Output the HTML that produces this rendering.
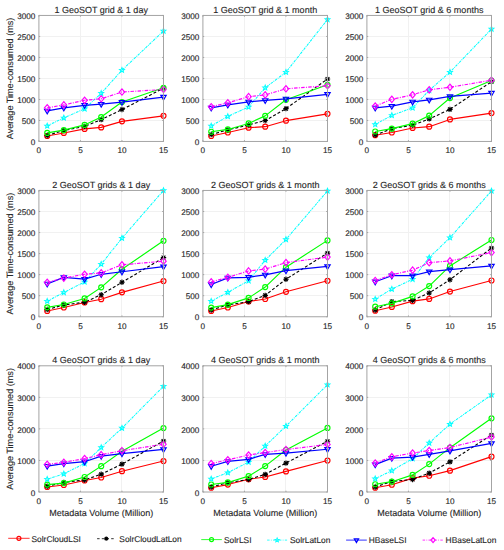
<!DOCTYPE html>
<html><head><meta charset="utf-8"><style>
html,body{margin:0;padding:0;background:#fff;}
body{width:504px;height:550px;overflow:hidden;font-family:"Liberation Sans",sans-serif;}
svg{display:block;}
svg text{stroke:#262626;stroke-width:0.12px;}
</style></head><body>
<svg width="504" height="550" viewBox="0 0 504 550" font-family="Liberation Sans, sans-serif" text-rendering="geometricPrecision">
<rect width="504" height="550" fill="#ffffff"/>
<path d="M80.50 15.45V141.45M121.50 15.45V141.45M38.90 120.50H163.50M38.90 99.50H163.50M38.90 78.50H163.50M38.90 57.50H163.50M38.90 36.50H163.50" stroke="#f1f1f1" stroke-width="1" fill="none"/>
<polyline points="47.21,135.95 63.82,132.92 84.59,128.89 101.20,127.38 121.97,121.37 163.50,115.83" fill="none" stroke="#ff0000" stroke-width="1.1" stroke-linejoin="round"/>
<circle cx="47.21" cy="135.95" r="2.50" fill="none" stroke="#ff0000" stroke-width="1.15"/>
<circle cx="63.82" cy="132.92" r="2.50" fill="none" stroke="#ff0000" stroke-width="1.15"/>
<circle cx="84.59" cy="128.89" r="2.50" fill="none" stroke="#ff0000" stroke-width="1.15"/>
<circle cx="101.20" cy="127.38" r="2.50" fill="none" stroke="#ff0000" stroke-width="1.15"/>
<circle cx="121.97" cy="121.37" r="2.50" fill="none" stroke="#ff0000" stroke-width="1.15"/>
<circle cx="163.50" cy="115.83" r="2.50" fill="none" stroke="#ff0000" stroke-width="1.15"/>
<polyline points="47.21,135.44 63.82,130.40 84.59,126.41 101.20,119.61 121.97,109.57 163.50,88.24" fill="none" stroke="#000000" stroke-width="1.1" stroke-dasharray="3 2" stroke-linejoin="round"/>
<path d="M44.51 135.44L49.91 135.44M45.30 133.53L49.12 137.35M47.21 132.74L47.21 138.14M49.12 133.53L45.30 137.35" stroke="#000000" stroke-width="1.1" fill="none"/>
<path d="M61.12 130.40L66.52 130.40M61.91 128.49L65.73 132.31M63.82 127.70L63.82 133.10M65.73 128.49L61.91 132.31" stroke="#000000" stroke-width="1.1" fill="none"/>
<path d="M81.89 126.41L87.29 126.41M82.68 124.50L86.50 128.32M84.59 123.71L84.59 129.11M86.50 124.50L82.68 128.32" stroke="#000000" stroke-width="1.1" fill="none"/>
<path d="M98.50 119.61L103.90 119.61M99.29 117.70L103.11 121.52M101.20 116.91L101.20 122.31M103.11 117.70L99.29 121.52" stroke="#000000" stroke-width="1.1" fill="none"/>
<path d="M119.27 109.57L124.67 109.57M120.06 107.66L123.88 111.48M121.97 106.87L121.97 112.27M123.88 107.66L120.06 111.48" stroke="#000000" stroke-width="1.1" fill="none"/>
<path d="M160.80 88.24L166.20 88.24M161.59 86.33L165.41 90.15M163.50 85.54L163.50 90.94M165.41 86.33L161.59 90.15" stroke="#000000" stroke-width="1.1" fill="none"/>
<polyline points="47.21,132.92 63.82,130.15 84.59,124.90 101.20,117.09 121.97,102.05 163.50,87.73" fill="none" stroke="#00ff00" stroke-width="1.15" stroke-linejoin="round"/>
<circle cx="47.21" cy="132.92" r="2.50" fill="none" stroke="#00ff00" stroke-width="1.15"/>
<circle cx="63.82" cy="130.15" r="2.50" fill="none" stroke="#00ff00" stroke-width="1.15"/>
<circle cx="84.59" cy="124.90" r="2.50" fill="none" stroke="#00ff00" stroke-width="1.15"/>
<circle cx="101.20" cy="117.09" r="2.50" fill="none" stroke="#00ff00" stroke-width="1.15"/>
<circle cx="121.97" cy="102.05" r="2.50" fill="none" stroke="#00ff00" stroke-width="1.15"/>
<circle cx="163.50" cy="87.73" r="2.50" fill="none" stroke="#00ff00" stroke-width="1.15"/>
<polyline points="47.21,125.91 63.82,117.85 84.59,108.82 101.20,93.28 121.97,70.18 163.50,30.99" fill="none" stroke="#00ffff" stroke-width="1.05" stroke-dasharray="2.6 0.9 0.9 0.9" stroke-linejoin="round"/>
<polygon points="47.21,123.36 47.88,124.98 49.63,125.12 48.30,126.26 48.71,127.97 47.21,127.06 45.71,127.97 46.12,126.26 44.78,125.12 46.53,124.98" fill="none" stroke="#00ffff" stroke-width="1.05"/>
<polygon points="63.82,115.30 64.49,116.92 66.25,117.06 64.91,118.20 65.32,119.91 63.82,118.99 62.32,119.91 62.73,118.20 61.39,117.06 63.15,116.92" fill="none" stroke="#00ffff" stroke-width="1.05"/>
<polygon points="84.59,106.27 85.26,107.89 87.01,108.03 85.68,109.17 86.09,110.88 84.59,109.96 83.09,110.88 83.50,109.17 82.16,108.03 83.91,107.89" fill="none" stroke="#00ffff" stroke-width="1.05"/>
<polygon points="101.20,90.73 101.87,92.35 103.63,92.49 102.29,93.63 102.70,95.34 101.20,94.42 99.70,95.34 100.11,93.63 98.77,92.49 100.53,92.35" fill="none" stroke="#00ffff" stroke-width="1.05"/>
<polygon points="121.97,67.63 122.64,69.25 124.39,69.39 123.06,70.53 123.47,72.24 121.97,71.32 120.47,72.24 120.88,70.53 119.54,69.39 121.29,69.25" fill="none" stroke="#00ffff" stroke-width="1.05"/>
<polygon points="163.50,28.44 164.17,30.06 165.93,30.20 164.59,31.34 165.00,33.05 163.50,32.14 162.00,33.05 162.41,31.34 161.07,30.20 162.83,30.06" fill="none" stroke="#00ffff" stroke-width="1.05"/>
<polyline points="47.21,110.83 63.82,107.81 84.59,105.29 101.20,104.07 121.97,102.05 163.50,97.01" fill="none" stroke="#0000ff" stroke-width="1.25" stroke-linejoin="round"/>
<polygon points="44.51,109.23 49.91,109.23 47.21,113.83" fill="none" stroke="#0000ff" stroke-width="1.15"/>
<polygon points="61.12,106.21 66.52,106.21 63.82,110.81" fill="none" stroke="#0000ff" stroke-width="1.15"/>
<polygon points="81.89,103.69 87.29,103.69 84.59,108.29" fill="none" stroke="#0000ff" stroke-width="1.15"/>
<polygon points="98.50,102.47 103.90,102.47 101.20,107.07" fill="none" stroke="#0000ff" stroke-width="1.15"/>
<polygon points="119.27,100.45 124.67,100.45 121.97,105.05" fill="none" stroke="#0000ff" stroke-width="1.15"/>
<polygon points="160.80,95.41 166.20,95.41 163.50,100.01" fill="none" stroke="#0000ff" stroke-width="1.15"/>
<polyline points="47.21,107.81 63.82,104.91 84.59,100.29 101.20,98.78 121.97,92.02 163.50,89.50" fill="none" stroke="#ff00ff" stroke-width="1.15" stroke-dasharray="3.5 1.3 1 1.3" stroke-linejoin="round"/>
<polygon points="47.21,104.61 49.91,107.81 47.21,111.01 44.51,107.81" fill="none" stroke="#ff00ff" stroke-width="1.15"/>
<polygon points="63.82,101.71 66.52,104.91 63.82,108.11 61.12,104.91" fill="none" stroke="#ff00ff" stroke-width="1.15"/>
<polygon points="84.59,97.09 87.29,100.29 84.59,103.49 81.89,100.29" fill="none" stroke="#ff00ff" stroke-width="1.15"/>
<polygon points="101.20,95.58 103.90,98.78 101.20,101.98 98.50,98.78" fill="none" stroke="#ff00ff" stroke-width="1.15"/>
<polygon points="121.97,88.82 124.67,92.02 121.97,95.22 119.27,92.02" fill="none" stroke="#ff00ff" stroke-width="1.15"/>
<polygon points="163.50,86.30 166.20,89.50 163.50,92.70 160.80,89.50" fill="none" stroke="#ff00ff" stroke-width="1.15"/>
<path d="M38.90 141.45v-1.3M38.90 15.45v1.3M80.43 141.45v-1.3M80.43 15.45v1.3M121.97 141.45v-1.3M121.97 15.45v1.3M163.50 141.45v-1.3M163.50 15.45v1.3M38.90 141.45h1.3M163.50 141.45h-1.3M38.90 120.45h1.3M163.50 120.45h-1.3M38.90 99.45h1.3M163.50 99.45h-1.3M38.90 78.45h1.3M163.50 78.45h-1.3M38.90 57.45h1.3M163.50 57.45h-1.3M38.90 36.45h1.3M163.50 36.45h-1.3M38.90 15.45h1.3M163.50 15.45h-1.3" stroke="#a4a4a4" stroke-width="1" fill="none"/>
<rect x="38.90" y="15.45" width="124.60" height="126.00" fill="none" stroke="#a4a4a4" stroke-width="1"/>
<text x="38.90" y="153.35" font-size="8.2" fill="#262626" text-anchor="middle">0</text>
<text x="80.43" y="153.35" font-size="8.2" fill="#262626" text-anchor="middle">5</text>
<text x="121.97" y="153.35" font-size="8.2" fill="#262626" text-anchor="middle">10</text>
<text x="163.50" y="153.35" font-size="8.2" fill="#262626" text-anchor="middle">15</text>
<text x="35.40" y="145.05" font-size="8.2" fill="#262626" text-anchor="end">0</text>
<text x="35.40" y="124.05" font-size="8.2" fill="#262626" text-anchor="end">500</text>
<text x="35.40" y="103.05" font-size="8.2" fill="#262626" text-anchor="end">1000</text>
<text x="35.40" y="82.05" font-size="8.2" fill="#262626" text-anchor="end">1500</text>
<text x="35.40" y="61.05" font-size="8.2" fill="#262626" text-anchor="end">2000</text>
<text x="35.40" y="40.05" font-size="8.2" fill="#262626" text-anchor="end">2500</text>
<text x="35.40" y="19.05" font-size="8.2" fill="#262626" text-anchor="end">3000</text>
<text x="101.20" y="12.55" font-size="9.0" fill="#262626" text-anchor="middle">1 GeoSOT grid &amp; 1 day</text>
<path d="M244.50 15.45V141.45M285.50 15.45V141.45M202.90 120.50H327.50M202.90 99.50H327.50M202.90 78.50H327.50M202.90 57.50H327.50M202.90 36.50H327.50" stroke="#f1f1f1" stroke-width="1" fill="none"/>
<polyline points="211.21,135.95 227.82,132.46 248.59,127.67 265.20,126.67 285.97,120.66 327.50,113.86" fill="none" stroke="#ff0000" stroke-width="1.1" stroke-linejoin="round"/>
<circle cx="211.21" cy="135.95" r="2.50" fill="none" stroke="#ff0000" stroke-width="1.15"/>
<circle cx="227.82" cy="132.46" r="2.50" fill="none" stroke="#ff0000" stroke-width="1.15"/>
<circle cx="248.59" cy="127.67" r="2.50" fill="none" stroke="#ff0000" stroke-width="1.15"/>
<circle cx="265.20" cy="126.67" r="2.50" fill="none" stroke="#ff0000" stroke-width="1.15"/>
<circle cx="285.97" cy="120.66" r="2.50" fill="none" stroke="#ff0000" stroke-width="1.15"/>
<circle cx="327.50" cy="113.86" r="2.50" fill="none" stroke="#ff0000" stroke-width="1.15"/>
<polyline points="211.21,134.48 227.82,129.94 248.59,124.90 265.20,120.53 285.97,108.61 327.50,79.00" fill="none" stroke="#000000" stroke-width="1.1" stroke-dasharray="3 2" stroke-linejoin="round"/>
<path d="M208.51 134.48L213.91 134.48M209.30 132.57L213.12 136.39M211.21 131.78L211.21 137.18M213.12 132.57L209.30 136.39" stroke="#000000" stroke-width="1.1" fill="none"/>
<path d="M225.12 129.94L230.52 129.94M225.91 128.03L229.73 131.85M227.82 127.24L227.82 132.64M229.73 128.03L225.91 131.85" stroke="#000000" stroke-width="1.1" fill="none"/>
<path d="M245.89 124.90L251.29 124.90M246.68 122.99L250.50 126.81M248.59 122.20L248.59 127.60M250.50 122.99L246.68 126.81" stroke="#000000" stroke-width="1.1" fill="none"/>
<path d="M262.50 120.53L267.90 120.53M263.29 118.62L267.11 122.44M265.20 117.83L265.20 123.23M267.11 118.62L263.29 122.44" stroke="#000000" stroke-width="1.1" fill="none"/>
<path d="M283.27 108.61L288.67 108.61M284.06 106.70L287.88 110.52M285.97 105.91L285.97 111.31M287.88 106.70L284.06 110.52" stroke="#000000" stroke-width="1.1" fill="none"/>
<path d="M324.80 79.00L330.20 79.00M325.59 77.09L329.41 80.91M327.50 76.30L327.50 81.70M329.41 77.09L325.59 80.91" stroke="#000000" stroke-width="1.1" fill="none"/>
<polyline points="211.21,131.71 227.82,129.44 248.59,123.43 265.20,115.87 285.97,99.83 327.50,84.75" fill="none" stroke="#00ff00" stroke-width="1.15" stroke-linejoin="round"/>
<circle cx="211.21" cy="131.71" r="2.50" fill="none" stroke="#00ff00" stroke-width="1.15"/>
<circle cx="227.82" cy="129.44" r="2.50" fill="none" stroke="#00ff00" stroke-width="1.15"/>
<circle cx="248.59" cy="123.43" r="2.50" fill="none" stroke="#00ff00" stroke-width="1.15"/>
<circle cx="265.20" cy="115.87" r="2.50" fill="none" stroke="#00ff00" stroke-width="1.15"/>
<circle cx="285.97" cy="99.83" r="2.50" fill="none" stroke="#00ff00" stroke-width="1.15"/>
<circle cx="327.50" cy="84.75" r="2.50" fill="none" stroke="#00ff00" stroke-width="1.15"/>
<polyline points="211.21,125.91 227.82,116.38 248.59,106.97 265.20,87.77 285.97,72.19 327.50,19.48" fill="none" stroke="#00ffff" stroke-width="1.05" stroke-dasharray="2.6 0.9 0.9 0.9" stroke-linejoin="round"/>
<polygon points="211.21,123.36 211.88,124.98 213.63,125.12 212.30,126.26 212.71,127.97 211.21,127.06 209.71,127.97 210.12,126.26 208.78,125.12 210.53,124.98" fill="none" stroke="#00ffff" stroke-width="1.05"/>
<polygon points="227.82,113.83 228.49,115.45 230.25,115.59 228.91,116.73 229.32,118.44 227.82,117.52 226.32,118.44 226.73,116.73 225.39,115.59 227.15,115.45" fill="none" stroke="#00ffff" stroke-width="1.05"/>
<polygon points="248.59,104.42 249.26,106.04 251.01,106.18 249.68,107.32 250.09,109.03 248.59,108.12 247.09,109.03 247.50,107.32 246.16,106.18 247.91,106.04" fill="none" stroke="#00ffff" stroke-width="1.05"/>
<polygon points="265.20,85.22 265.87,86.85 267.63,86.99 266.29,88.13 266.70,89.84 265.20,88.92 263.70,89.84 264.11,88.13 262.77,86.99 264.53,86.85" fill="none" stroke="#00ffff" stroke-width="1.05"/>
<polygon points="285.97,69.64 286.64,71.26 288.39,71.40 287.06,72.55 287.47,74.25 285.97,73.34 284.47,74.25 284.88,72.55 283.54,71.40 285.29,71.26" fill="none" stroke="#00ffff" stroke-width="1.05"/>
<polygon points="327.50,16.93 328.17,18.55 329.93,18.69 328.59,19.84 329.00,21.54 327.50,20.63 326.00,21.54 326.41,19.84 325.07,18.69 326.83,18.55" fill="none" stroke="#00ffff" stroke-width="1.05"/>
<polyline points="211.21,107.98 227.82,104.83 248.59,101.84 265.20,100.33 285.97,98.82 327.50,94.28" fill="none" stroke="#0000ff" stroke-width="1.25" stroke-linejoin="round"/>
<polygon points="208.51,106.38 213.91,106.38 211.21,110.98" fill="none" stroke="#0000ff" stroke-width="1.15"/>
<polygon points="225.12,103.23 230.52,103.23 227.82,107.83" fill="none" stroke="#0000ff" stroke-width="1.15"/>
<polygon points="245.89,100.24 251.29,100.24 248.59,104.84" fill="none" stroke="#0000ff" stroke-width="1.15"/>
<polygon points="262.50,98.73 267.90,98.73 265.20,103.33" fill="none" stroke="#0000ff" stroke-width="1.15"/>
<polygon points="283.27,97.22 288.67,97.22 285.97,101.82" fill="none" stroke="#0000ff" stroke-width="1.15"/>
<polygon points="324.80,92.68 330.20,92.68 327.50,97.28" fill="none" stroke="#0000ff" stroke-width="1.15"/>
<polyline points="211.21,106.72 227.82,102.85 248.59,96.68 265.20,94.91 285.97,88.78 327.50,85.76" fill="none" stroke="#ff00ff" stroke-width="1.15" stroke-dasharray="3.5 1.3 1 1.3" stroke-linejoin="round"/>
<polygon points="211.21,103.52 213.91,106.72 211.21,109.92 208.51,106.72" fill="none" stroke="#ff00ff" stroke-width="1.15"/>
<polygon points="227.82,99.65 230.52,102.85 227.82,106.05 225.12,102.85" fill="none" stroke="#ff00ff" stroke-width="1.15"/>
<polygon points="248.59,93.48 251.29,96.68 248.59,99.88 245.89,96.68" fill="none" stroke="#ff00ff" stroke-width="1.15"/>
<polygon points="265.20,91.71 267.90,94.91 265.20,98.11 262.50,94.91" fill="none" stroke="#ff00ff" stroke-width="1.15"/>
<polygon points="285.97,85.58 288.67,88.78 285.97,91.98 283.27,88.78" fill="none" stroke="#ff00ff" stroke-width="1.15"/>
<polygon points="327.50,82.56 330.20,85.76 327.50,88.96 324.80,85.76" fill="none" stroke="#ff00ff" stroke-width="1.15"/>
<path d="M202.90 141.45v-1.3M202.90 15.45v1.3M244.43 141.45v-1.3M244.43 15.45v1.3M285.97 141.45v-1.3M285.97 15.45v1.3M327.50 141.45v-1.3M327.50 15.45v1.3M202.90 141.45h1.3M327.50 141.45h-1.3M202.90 120.45h1.3M327.50 120.45h-1.3M202.90 99.45h1.3M327.50 99.45h-1.3M202.90 78.45h1.3M327.50 78.45h-1.3M202.90 57.45h1.3M327.50 57.45h-1.3M202.90 36.45h1.3M327.50 36.45h-1.3M202.90 15.45h1.3M327.50 15.45h-1.3" stroke="#a4a4a4" stroke-width="1" fill="none"/>
<rect x="202.90" y="15.45" width="124.60" height="126.00" fill="none" stroke="#a4a4a4" stroke-width="1"/>
<text x="202.90" y="153.35" font-size="8.2" fill="#262626" text-anchor="middle">0</text>
<text x="244.43" y="153.35" font-size="8.2" fill="#262626" text-anchor="middle">5</text>
<text x="285.97" y="153.35" font-size="8.2" fill="#262626" text-anchor="middle">10</text>
<text x="327.50" y="153.35" font-size="8.2" fill="#262626" text-anchor="middle">15</text>
<text x="199.40" y="145.05" font-size="8.2" fill="#262626" text-anchor="end">0</text>
<text x="199.40" y="124.05" font-size="8.2" fill="#262626" text-anchor="end">500</text>
<text x="199.40" y="103.05" font-size="8.2" fill="#262626" text-anchor="end">1000</text>
<text x="199.40" y="82.05" font-size="8.2" fill="#262626" text-anchor="end">1500</text>
<text x="199.40" y="61.05" font-size="8.2" fill="#262626" text-anchor="end">2000</text>
<text x="199.40" y="40.05" font-size="8.2" fill="#262626" text-anchor="end">2500</text>
<text x="199.40" y="19.05" font-size="8.2" fill="#262626" text-anchor="end">3000</text>
<text x="265.20" y="12.55" font-size="9.0" fill="#262626" text-anchor="middle">1 GeoSOT grid &amp; 1 month</text>
<path d="M408.50 15.45V141.45M449.50 15.45V141.45M366.90 120.50H491.50M366.90 99.50H491.50M366.90 78.50H491.50M366.90 57.50H491.50M366.90 36.50H491.50" stroke="#f1f1f1" stroke-width="1" fill="none"/>
<polyline points="375.21,135.19 391.82,132.46 412.59,127.93 429.20,126.67 449.97,119.40 491.50,113.10" fill="none" stroke="#ff0000" stroke-width="1.1" stroke-linejoin="round"/>
<circle cx="375.21" cy="135.19" r="2.50" fill="none" stroke="#ff0000" stroke-width="1.15"/>
<circle cx="391.82" cy="132.46" r="2.50" fill="none" stroke="#ff0000" stroke-width="1.15"/>
<circle cx="412.59" cy="127.93" r="2.50" fill="none" stroke="#ff0000" stroke-width="1.15"/>
<circle cx="429.20" cy="126.67" r="2.50" fill="none" stroke="#ff0000" stroke-width="1.15"/>
<circle cx="449.97" cy="119.40" r="2.50" fill="none" stroke="#ff0000" stroke-width="1.15"/>
<circle cx="491.50" cy="113.10" r="2.50" fill="none" stroke="#ff0000" stroke-width="1.15"/>
<polyline points="375.21,134.98 391.82,128.68 412.59,125.15 429.20,118.90 449.97,109.36 491.50,81.73" fill="none" stroke="#000000" stroke-width="1.1" stroke-dasharray="3 2" stroke-linejoin="round"/>
<path d="M372.51 134.98L377.91 134.98M373.30 133.07L377.12 136.89M375.21 132.28L375.21 137.68M377.12 133.07L373.30 136.89" stroke="#000000" stroke-width="1.1" fill="none"/>
<path d="M389.12 128.68L394.52 128.68M389.91 126.77L393.73 130.59M391.82 125.98L391.82 131.38M393.73 126.77L389.91 130.59" stroke="#000000" stroke-width="1.1" fill="none"/>
<path d="M409.89 125.15L415.29 125.15M410.68 123.24L414.50 127.06M412.59 122.45L412.59 127.85M414.50 123.24L410.68 127.06" stroke="#000000" stroke-width="1.1" fill="none"/>
<path d="M426.50 118.90L431.90 118.90M427.29 116.99L431.11 120.81M429.20 116.20L429.20 121.60M431.11 116.99L427.29 120.81" stroke="#000000" stroke-width="1.1" fill="none"/>
<path d="M447.27 109.36L452.67 109.36M448.06 107.45L451.88 111.27M449.97 106.66L449.97 112.06M451.88 107.45L448.06 111.27" stroke="#000000" stroke-width="1.1" fill="none"/>
<path d="M488.80 81.73L494.20 81.73M489.59 79.82L493.41 83.64M491.50 79.03L491.50 84.43M493.41 79.82L489.59 83.64" stroke="#000000" stroke-width="1.1" fill="none"/>
<polyline points="375.21,131.45 391.82,128.68 412.59,123.68 429.20,115.62 449.97,98.06 491.50,80.47" fill="none" stroke="#00ff00" stroke-width="1.15" stroke-linejoin="round"/>
<circle cx="375.21" cy="131.45" r="2.50" fill="none" stroke="#00ff00" stroke-width="1.15"/>
<circle cx="391.82" cy="128.68" r="2.50" fill="none" stroke="#00ff00" stroke-width="1.15"/>
<circle cx="412.59" cy="123.68" r="2.50" fill="none" stroke="#00ff00" stroke-width="1.15"/>
<circle cx="429.20" cy="115.62" r="2.50" fill="none" stroke="#00ff00" stroke-width="1.15"/>
<circle cx="449.97" cy="98.06" r="2.50" fill="none" stroke="#00ff00" stroke-width="1.15"/>
<circle cx="491.50" cy="80.47" r="2.50" fill="none" stroke="#00ff00" stroke-width="1.15"/>
<polyline points="375.21,124.40 391.82,115.37 412.59,107.85 429.20,90.29 449.97,72.19 491.50,29.02" fill="none" stroke="#00ffff" stroke-width="1.05" stroke-dasharray="2.6 0.9 0.9 0.9" stroke-linejoin="round"/>
<polygon points="375.21,121.85 375.88,123.47 377.63,123.61 376.30,124.75 376.71,126.46 375.21,125.55 373.71,126.46 374.12,124.75 372.78,123.61 374.53,123.47" fill="none" stroke="#00ffff" stroke-width="1.05"/>
<polygon points="391.82,112.82 392.49,114.44 394.25,114.58 392.91,115.72 393.32,117.43 391.82,116.52 390.32,117.43 390.73,115.72 389.39,114.58 391.15,114.44" fill="none" stroke="#00ffff" stroke-width="1.05"/>
<polygon points="412.59,105.30 413.26,106.92 415.01,107.06 413.68,108.20 414.09,109.91 412.59,109.00 411.09,109.91 411.50,108.20 410.16,107.06 411.91,106.92" fill="none" stroke="#00ffff" stroke-width="1.05"/>
<polygon points="429.20,87.74 429.87,89.37 431.63,89.51 430.29,90.65 430.70,92.36 429.20,91.44 427.70,92.36 428.11,90.65 426.77,89.51 428.53,89.37" fill="none" stroke="#00ffff" stroke-width="1.05"/>
<polygon points="449.97,69.64 450.64,71.26 452.39,71.40 451.06,72.55 451.47,74.25 449.97,73.34 448.47,74.25 448.88,72.55 447.54,71.40 449.29,71.26" fill="none" stroke="#00ffff" stroke-width="1.05"/>
<polygon points="491.50,26.47 492.17,28.09 493.93,28.23 492.59,29.37 493.00,31.08 491.50,30.16 490.00,31.08 490.41,29.37 489.07,28.23 490.83,28.09" fill="none" stroke="#00ffff" stroke-width="1.05"/>
<polyline points="375.21,107.81 391.82,106.09 412.59,101.84 429.20,99.83 449.97,96.30 491.50,93.02" fill="none" stroke="#0000ff" stroke-width="1.25" stroke-linejoin="round"/>
<polygon points="372.51,106.21 377.91,106.21 375.21,110.81" fill="none" stroke="#0000ff" stroke-width="1.15"/>
<polygon points="389.12,104.49 394.52,104.49 391.82,109.09" fill="none" stroke="#0000ff" stroke-width="1.15"/>
<polygon points="409.89,100.24 415.29,100.24 412.59,104.84" fill="none" stroke="#0000ff" stroke-width="1.15"/>
<polygon points="426.50,98.23 431.90,98.23 429.20,102.83" fill="none" stroke="#0000ff" stroke-width="1.15"/>
<polygon points="447.27,94.70 452.67,94.70 449.97,99.30" fill="none" stroke="#0000ff" stroke-width="1.15"/>
<polygon points="488.80,91.42 494.20,91.42 491.50,96.02" fill="none" stroke="#0000ff" stroke-width="1.15"/>
<polyline points="375.21,106.09 391.82,99.32 412.59,94.79 429.20,89.79 449.97,87.27 491.50,80.21" fill="none" stroke="#ff00ff" stroke-width="1.15" stroke-dasharray="3.5 1.3 1 1.3" stroke-linejoin="round"/>
<polygon points="375.21,102.89 377.91,106.09 375.21,109.29 372.51,106.09" fill="none" stroke="#ff00ff" stroke-width="1.15"/>
<polygon points="391.82,96.12 394.52,99.32 391.82,102.52 389.12,99.32" fill="none" stroke="#ff00ff" stroke-width="1.15"/>
<polygon points="412.59,91.59 415.29,94.79 412.59,97.99 409.89,94.79" fill="none" stroke="#ff00ff" stroke-width="1.15"/>
<polygon points="429.20,86.59 431.90,89.79 429.20,92.99 426.50,89.79" fill="none" stroke="#ff00ff" stroke-width="1.15"/>
<polygon points="449.97,84.07 452.67,87.27 449.97,90.47 447.27,87.27" fill="none" stroke="#ff00ff" stroke-width="1.15"/>
<polygon points="491.50,77.01 494.20,80.21 491.50,83.41 488.80,80.21" fill="none" stroke="#ff00ff" stroke-width="1.15"/>
<path d="M366.90 141.45v-1.3M366.90 15.45v1.3M408.43 141.45v-1.3M408.43 15.45v1.3M449.97 141.45v-1.3M449.97 15.45v1.3M491.50 141.45v-1.3M491.50 15.45v1.3M366.90 141.45h1.3M491.50 141.45h-1.3M366.90 120.45h1.3M491.50 120.45h-1.3M366.90 99.45h1.3M491.50 99.45h-1.3M366.90 78.45h1.3M491.50 78.45h-1.3M366.90 57.45h1.3M491.50 57.45h-1.3M366.90 36.45h1.3M491.50 36.45h-1.3M366.90 15.45h1.3M491.50 15.45h-1.3" stroke="#a4a4a4" stroke-width="1" fill="none"/>
<rect x="366.90" y="15.45" width="124.60" height="126.00" fill="none" stroke="#a4a4a4" stroke-width="1"/>
<text x="366.90" y="153.35" font-size="8.2" fill="#262626" text-anchor="middle">0</text>
<text x="408.43" y="153.35" font-size="8.2" fill="#262626" text-anchor="middle">5</text>
<text x="449.97" y="153.35" font-size="8.2" fill="#262626" text-anchor="middle">10</text>
<text x="491.50" y="153.35" font-size="8.2" fill="#262626" text-anchor="middle">15</text>
<text x="363.40" y="145.05" font-size="8.2" fill="#262626" text-anchor="end">0</text>
<text x="363.40" y="124.05" font-size="8.2" fill="#262626" text-anchor="end">500</text>
<text x="363.40" y="103.05" font-size="8.2" fill="#262626" text-anchor="end">1000</text>
<text x="363.40" y="82.05" font-size="8.2" fill="#262626" text-anchor="end">1500</text>
<text x="363.40" y="61.05" font-size="8.2" fill="#262626" text-anchor="end">2000</text>
<text x="363.40" y="40.05" font-size="8.2" fill="#262626" text-anchor="end">2500</text>
<text x="363.40" y="19.05" font-size="8.2" fill="#262626" text-anchor="end">3000</text>
<text x="429.20" y="12.55" font-size="9.0" fill="#262626" text-anchor="middle">1 GeoSOT grid &amp; 6 months</text>
<text transform="translate(12.5 78.45) rotate(-90)" x="0" y="0" font-size="9.1" fill="#262626" text-anchor="middle">Average Time-consumed (ms)</text>
<path d="M80.50 190.45V316.75M121.50 190.45V316.75M38.90 295.50H163.50M38.90 274.50H163.50M38.90 253.50H163.50M38.90 232.50H163.50M38.90 211.50H163.50" stroke="#f1f1f1" stroke-width="1" fill="none"/>
<polyline points="47.21,310.98 63.82,307.49 84.59,302.44 101.20,299.19 121.97,292.37 163.50,281.05" fill="none" stroke="#ff0000" stroke-width="1.1" stroke-linejoin="round"/>
<circle cx="47.21" cy="310.98" r="2.50" fill="none" stroke="#ff0000" stroke-width="1.15"/>
<circle cx="63.82" cy="307.49" r="2.50" fill="none" stroke="#ff0000" stroke-width="1.15"/>
<circle cx="84.59" cy="302.44" r="2.50" fill="none" stroke="#ff0000" stroke-width="1.15"/>
<circle cx="101.20" cy="299.19" r="2.50" fill="none" stroke="#ff0000" stroke-width="1.15"/>
<circle cx="121.97" cy="292.37" r="2.50" fill="none" stroke="#ff0000" stroke-width="1.15"/>
<circle cx="163.50" cy="281.05" r="2.50" fill="none" stroke="#ff0000" stroke-width="1.15"/>
<polyline points="47.21,309.51 63.82,304.96 84.59,302.18 101.20,294.73 121.97,282.31 163.50,257.64" fill="none" stroke="#000000" stroke-width="1.1" stroke-dasharray="3 2" stroke-linejoin="round"/>
<path d="M44.51 309.51L49.91 309.51M45.30 307.60L49.12 311.42M47.21 306.81L47.21 312.21M49.12 307.60L45.30 311.42" stroke="#000000" stroke-width="1.1" fill="none"/>
<path d="M61.12 304.96L66.52 304.96M61.91 303.05L65.73 306.87M63.82 302.26L63.82 307.66M65.73 303.05L61.91 306.87" stroke="#000000" stroke-width="1.1" fill="none"/>
<path d="M81.89 302.18L87.29 302.18M82.68 300.27L86.50 304.09M84.59 299.48L84.59 304.88M86.50 300.27L82.68 304.09" stroke="#000000" stroke-width="1.1" fill="none"/>
<path d="M98.50 294.73L103.90 294.73M99.29 292.82L103.11 296.64M101.20 292.03L101.20 297.43M103.11 292.82L99.29 296.64" stroke="#000000" stroke-width="1.1" fill="none"/>
<path d="M119.27 282.31L124.67 282.31M120.06 280.40L123.88 284.22M121.97 279.61L121.97 285.01M123.88 280.40L120.06 284.22" stroke="#000000" stroke-width="1.1" fill="none"/>
<path d="M160.80 257.64L166.20 257.64M161.59 255.73L165.41 259.55M163.50 254.94L163.50 260.34M165.41 255.73L161.59 259.55" stroke="#000000" stroke-width="1.1" fill="none"/>
<polyline points="47.21,307.36 63.82,304.46 84.59,298.44 101.20,287.36 121.97,269.22 163.50,240.80" fill="none" stroke="#00ff00" stroke-width="1.15" stroke-linejoin="round"/>
<circle cx="47.21" cy="307.36" r="2.50" fill="none" stroke="#00ff00" stroke-width="1.15"/>
<circle cx="63.82" cy="304.46" r="2.50" fill="none" stroke="#00ff00" stroke-width="1.15"/>
<circle cx="84.59" cy="298.44" r="2.50" fill="none" stroke="#00ff00" stroke-width="1.15"/>
<circle cx="101.20" cy="287.36" r="2.50" fill="none" stroke="#00ff00" stroke-width="1.15"/>
<circle cx="121.97" cy="269.22" r="2.50" fill="none" stroke="#00ff00" stroke-width="1.15"/>
<circle cx="163.50" cy="240.80" r="2.50" fill="none" stroke="#00ff00" stroke-width="1.15"/>
<polyline points="47.21,301.17 63.82,292.50 84.59,281.93 101.20,264.21 121.97,238.11 163.50,190.45" fill="none" stroke="#00ffff" stroke-width="1.05" stroke-dasharray="2.6 0.9 0.9 0.9" stroke-linejoin="round"/>
<polygon points="47.21,298.62 47.88,300.24 49.63,300.39 48.30,301.53 48.71,303.24 47.21,302.32 45.71,303.24 46.12,301.53 44.78,300.39 46.53,300.24" fill="none" stroke="#00ffff" stroke-width="1.05"/>
<polygon points="63.82,289.95 64.49,291.57 66.25,291.71 64.91,292.85 65.32,294.56 63.82,293.65 62.32,294.56 62.73,292.85 61.39,291.71 63.15,291.57" fill="none" stroke="#00ffff" stroke-width="1.05"/>
<polygon points="84.59,279.38 85.26,281.00 87.01,281.15 85.68,282.29 86.09,284.00 84.59,283.08 83.09,284.00 83.50,282.29 82.16,281.15 83.91,281.00" fill="none" stroke="#00ffff" stroke-width="1.05"/>
<polygon points="101.20,261.66 101.87,263.28 103.63,263.42 102.29,264.56 102.70,266.27 101.20,265.36 99.70,266.27 100.11,264.56 98.77,263.42 100.53,263.28" fill="none" stroke="#00ffff" stroke-width="1.05"/>
<polygon points="121.97,235.56 122.64,237.18 124.39,237.32 123.06,238.46 123.47,240.17 121.97,239.25 120.47,240.17 120.88,238.46 119.54,237.32 121.29,237.18" fill="none" stroke="#00ffff" stroke-width="1.05"/>
<polygon points="163.50,187.90 164.17,189.52 165.93,189.66 164.59,190.80 165.00,192.51 163.50,191.60 162.00,192.51 162.41,190.80 161.07,189.66 162.83,189.52" fill="none" stroke="#00ffff" stroke-width="1.05"/>
<polyline points="47.21,283.83 63.82,277.30 84.59,279.15 101.20,274.27 121.97,271.75 163.50,266.69" fill="none" stroke="#0000ff" stroke-width="1.25" stroke-linejoin="round"/>
<polygon points="44.51,282.23 49.91,282.23 47.21,286.83" fill="none" stroke="#0000ff" stroke-width="1.15"/>
<polygon points="61.12,275.70 66.52,275.70 63.82,280.30" fill="none" stroke="#0000ff" stroke-width="1.15"/>
<polygon points="81.89,277.55 87.29,277.55 84.59,282.15" fill="none" stroke="#0000ff" stroke-width="1.15"/>
<polygon points="98.50,272.67 103.90,272.67 101.20,277.27" fill="none" stroke="#0000ff" stroke-width="1.15"/>
<polygon points="119.27,270.15 124.67,270.15 121.97,274.75" fill="none" stroke="#0000ff" stroke-width="1.15"/>
<polygon points="160.80,265.09 166.20,265.09 163.50,269.69" fill="none" stroke="#0000ff" stroke-width="1.15"/>
<polyline points="47.21,282.31 63.82,278.06 84.59,274.27 101.20,272.88 121.97,264.80 163.50,261.18" fill="none" stroke="#ff00ff" stroke-width="1.15" stroke-dasharray="3.5 1.3 1 1.3" stroke-linejoin="round"/>
<polygon points="47.21,279.11 49.91,282.31 47.21,285.51 44.51,282.31" fill="none" stroke="#ff00ff" stroke-width="1.15"/>
<polygon points="63.82,274.86 66.52,278.06 63.82,281.26 61.12,278.06" fill="none" stroke="#ff00ff" stroke-width="1.15"/>
<polygon points="84.59,271.07 87.29,274.27 84.59,277.47 81.89,274.27" fill="none" stroke="#ff00ff" stroke-width="1.15"/>
<polygon points="101.20,269.68 103.90,272.88 101.20,276.08 98.50,272.88" fill="none" stroke="#ff00ff" stroke-width="1.15"/>
<polygon points="121.97,261.60 124.67,264.80 121.97,268.00 119.27,264.80" fill="none" stroke="#ff00ff" stroke-width="1.15"/>
<polygon points="163.50,257.98 166.20,261.18 163.50,264.38 160.80,261.18" fill="none" stroke="#ff00ff" stroke-width="1.15"/>
<path d="M38.90 316.75v-1.3M38.90 190.45v1.3M80.43 316.75v-1.3M80.43 190.45v1.3M121.97 316.75v-1.3M121.97 190.45v1.3M163.50 316.75v-1.3M163.50 190.45v1.3M38.90 316.75h1.3M163.50 316.75h-1.3M38.90 295.70h1.3M163.50 295.70h-1.3M38.90 274.65h1.3M163.50 274.65h-1.3M38.90 253.60h1.3M163.50 253.60h-1.3M38.90 232.55h1.3M163.50 232.55h-1.3M38.90 211.50h1.3M163.50 211.50h-1.3M38.90 190.45h1.3M163.50 190.45h-1.3" stroke="#a4a4a4" stroke-width="1" fill="none"/>
<rect x="38.90" y="190.45" width="124.60" height="126.30" fill="none" stroke="#a4a4a4" stroke-width="1"/>
<text x="38.90" y="328.65" font-size="8.2" fill="#262626" text-anchor="middle">0</text>
<text x="80.43" y="328.65" font-size="8.2" fill="#262626" text-anchor="middle">5</text>
<text x="121.97" y="328.65" font-size="8.2" fill="#262626" text-anchor="middle">10</text>
<text x="163.50" y="328.65" font-size="8.2" fill="#262626" text-anchor="middle">15</text>
<text x="35.40" y="320.35" font-size="8.2" fill="#262626" text-anchor="end">0</text>
<text x="35.40" y="299.30" font-size="8.2" fill="#262626" text-anchor="end">500</text>
<text x="35.40" y="278.25" font-size="8.2" fill="#262626" text-anchor="end">1000</text>
<text x="35.40" y="257.20" font-size="8.2" fill="#262626" text-anchor="end">1500</text>
<text x="35.40" y="236.15" font-size="8.2" fill="#262626" text-anchor="end">2000</text>
<text x="35.40" y="215.10" font-size="8.2" fill="#262626" text-anchor="end">2500</text>
<text x="35.40" y="194.05" font-size="8.2" fill="#262626" text-anchor="end">3000</text>
<text x="101.20" y="187.55" font-size="9.0" fill="#262626" text-anchor="middle">2 GeoSOT grids &amp; 1 day</text>
<path d="M244.50 190.45V316.75M285.50 190.45V316.75M202.90 295.50H327.50M202.90 274.50H327.50M202.90 253.50H327.50M202.90 232.50H327.50M202.90 211.50H327.50" stroke="#f1f1f1" stroke-width="1" fill="none"/>
<polyline points="211.21,310.94 227.82,307.45 248.59,301.51 265.20,299.03 285.97,291.83 327.50,280.80" fill="none" stroke="#ff0000" stroke-width="1.1" stroke-linejoin="round"/>
<circle cx="211.21" cy="310.94" r="2.50" fill="none" stroke="#ff0000" stroke-width="1.15"/>
<circle cx="227.82" cy="307.45" r="2.50" fill="none" stroke="#ff0000" stroke-width="1.15"/>
<circle cx="248.59" cy="301.51" r="2.50" fill="none" stroke="#ff0000" stroke-width="1.15"/>
<circle cx="265.20" cy="299.03" r="2.50" fill="none" stroke="#ff0000" stroke-width="1.15"/>
<circle cx="285.97" cy="291.83" r="2.50" fill="none" stroke="#ff0000" stroke-width="1.15"/>
<circle cx="327.50" cy="280.80" r="2.50" fill="none" stroke="#ff0000" stroke-width="1.15"/>
<polyline points="211.21,309.97 227.82,304.92 248.59,301.64 265.20,295.36 285.97,279.24 327.50,253.09" fill="none" stroke="#000000" stroke-width="1.1" stroke-dasharray="3 2" stroke-linejoin="round"/>
<path d="M208.51 309.97L213.91 309.97M209.30 308.06L213.12 311.88M211.21 307.27L211.21 312.67M213.12 308.06L209.30 311.88" stroke="#000000" stroke-width="1.1" fill="none"/>
<path d="M225.12 304.92L230.52 304.92M225.91 303.01L229.73 306.83M227.82 302.22L227.82 307.62M229.73 303.01L225.91 306.83" stroke="#000000" stroke-width="1.1" fill="none"/>
<path d="M245.89 301.64L251.29 301.64M246.68 299.73L250.50 303.55M248.59 298.94L248.59 304.34M250.50 299.73L246.68 303.55" stroke="#000000" stroke-width="1.1" fill="none"/>
<path d="M262.50 295.36L267.90 295.36M263.29 293.45L267.11 297.27M265.20 292.66L265.20 298.06M267.11 293.45L263.29 297.27" stroke="#000000" stroke-width="1.1" fill="none"/>
<path d="M283.27 279.24L288.67 279.24M284.06 277.33L287.88 281.15M285.97 276.54L285.97 281.94M287.88 277.33L284.06 281.15" stroke="#000000" stroke-width="1.1" fill="none"/>
<path d="M324.80 253.09L330.20 253.09M325.59 251.19L329.41 255.00M327.50 250.39L327.50 255.79M329.41 251.19L325.59 255.00" stroke="#000000" stroke-width="1.1" fill="none"/>
<polyline points="211.21,307.57 227.82,304.67 248.59,297.89 265.20,287.07 285.97,267.16 327.50,240.38" fill="none" stroke="#00ff00" stroke-width="1.15" stroke-linejoin="round"/>
<circle cx="211.21" cy="307.57" r="2.50" fill="none" stroke="#00ff00" stroke-width="1.15"/>
<circle cx="227.82" cy="304.67" r="2.50" fill="none" stroke="#00ff00" stroke-width="1.15"/>
<circle cx="248.59" cy="297.89" r="2.50" fill="none" stroke="#00ff00" stroke-width="1.15"/>
<circle cx="265.20" cy="287.07" r="2.50" fill="none" stroke="#00ff00" stroke-width="1.15"/>
<circle cx="285.97" cy="267.16" r="2.50" fill="none" stroke="#00ff00" stroke-width="1.15"/>
<circle cx="327.50" cy="240.38" r="2.50" fill="none" stroke="#00ff00" stroke-width="1.15"/>
<polyline points="211.21,301.13 227.82,292.33 248.59,280.75 265.20,260.13 285.97,239.50 327.50,190.91" fill="none" stroke="#00ffff" stroke-width="1.05" stroke-dasharray="2.6 0.9 0.9 0.9" stroke-linejoin="round"/>
<polygon points="211.21,298.58 211.88,300.20 213.63,300.34 212.30,301.49 212.71,303.19 211.21,302.28 209.71,303.19 210.12,301.49 208.78,300.34 210.53,300.20" fill="none" stroke="#00ffff" stroke-width="1.05"/>
<polygon points="227.82,289.78 228.49,291.40 230.25,291.54 228.91,292.69 229.32,294.39 227.82,293.48 226.32,294.39 226.73,292.69 225.39,291.54 227.15,291.40" fill="none" stroke="#00ffff" stroke-width="1.05"/>
<polygon points="248.59,278.20 249.26,279.83 251.01,279.97 249.68,281.11 250.09,282.82 248.59,281.90 247.09,282.82 247.50,281.11 246.16,279.97 247.91,279.83" fill="none" stroke="#00ffff" stroke-width="1.05"/>
<polygon points="265.20,257.58 265.87,259.20 267.63,259.34 266.29,260.48 266.70,262.19 265.20,261.27 263.70,262.19 264.11,260.48 262.77,259.34 264.53,259.20" fill="none" stroke="#00ffff" stroke-width="1.05"/>
<polygon points="285.97,236.95 286.64,238.57 288.39,238.71 287.06,239.85 287.47,241.56 285.97,240.64 284.47,241.56 284.88,239.85 283.54,238.71 285.29,238.57" fill="none" stroke="#00ffff" stroke-width="1.05"/>
<polygon points="327.50,188.36 328.17,189.98 329.93,190.13 328.59,191.27 329.00,192.98 327.50,192.06 326.00,192.98 326.41,191.27 325.07,190.13 326.83,189.98" fill="none" stroke="#00ffff" stroke-width="1.05"/>
<polyline points="211.21,284.54 227.82,277.89 248.59,277.26 265.20,274.86 285.97,270.69 327.50,266.44" fill="none" stroke="#0000ff" stroke-width="1.25" stroke-linejoin="round"/>
<polygon points="208.51,282.94 213.91,282.94 211.21,287.54" fill="none" stroke="#0000ff" stroke-width="1.15"/>
<polygon points="225.12,276.29 230.52,276.29 227.82,280.89" fill="none" stroke="#0000ff" stroke-width="1.15"/>
<polygon points="245.89,275.66 251.29,275.66 248.59,280.26" fill="none" stroke="#0000ff" stroke-width="1.15"/>
<polygon points="262.50,273.26 267.90,273.26 265.20,277.86" fill="none" stroke="#0000ff" stroke-width="1.15"/>
<polygon points="283.27,269.09 288.67,269.09 285.97,273.69" fill="none" stroke="#0000ff" stroke-width="1.15"/>
<polygon points="324.80,264.84 330.20,264.84 327.50,269.44" fill="none" stroke="#0000ff" stroke-width="1.15"/>
<polyline points="211.21,281.89 227.82,277.39 248.59,270.95 265.20,269.05 285.97,262.65 327.50,257.09" fill="none" stroke="#ff00ff" stroke-width="1.15" stroke-dasharray="3.5 1.3 1 1.3" stroke-linejoin="round"/>
<polygon points="211.21,278.69 213.91,281.89 211.21,285.09 208.51,281.89" fill="none" stroke="#ff00ff" stroke-width="1.15"/>
<polygon points="227.82,274.19 230.52,277.39 227.82,280.59 225.12,277.39" fill="none" stroke="#ff00ff" stroke-width="1.15"/>
<polygon points="248.59,267.75 251.29,270.95 248.59,274.15 245.89,270.95" fill="none" stroke="#ff00ff" stroke-width="1.15"/>
<polygon points="265.20,265.85 267.90,269.05 265.20,272.25 262.50,269.05" fill="none" stroke="#ff00ff" stroke-width="1.15"/>
<polygon points="285.97,259.45 288.67,262.65 285.97,265.85 283.27,262.65" fill="none" stroke="#ff00ff" stroke-width="1.15"/>
<polygon points="327.50,253.89 330.20,257.09 327.50,260.29 324.80,257.09" fill="none" stroke="#ff00ff" stroke-width="1.15"/>
<path d="M202.90 316.75v-1.3M202.90 190.45v1.3M244.43 316.75v-1.3M244.43 190.45v1.3M285.97 316.75v-1.3M285.97 190.45v1.3M327.50 316.75v-1.3M327.50 190.45v1.3M202.90 316.75h1.3M327.50 316.75h-1.3M202.90 295.70h1.3M327.50 295.70h-1.3M202.90 274.65h1.3M327.50 274.65h-1.3M202.90 253.60h1.3M327.50 253.60h-1.3M202.90 232.55h1.3M327.50 232.55h-1.3M202.90 211.50h1.3M327.50 211.50h-1.3M202.90 190.45h1.3M327.50 190.45h-1.3" stroke="#a4a4a4" stroke-width="1" fill="none"/>
<rect x="202.90" y="190.45" width="124.60" height="126.30" fill="none" stroke="#a4a4a4" stroke-width="1"/>
<text x="202.90" y="328.65" font-size="8.2" fill="#262626" text-anchor="middle">0</text>
<text x="244.43" y="328.65" font-size="8.2" fill="#262626" text-anchor="middle">5</text>
<text x="285.97" y="328.65" font-size="8.2" fill="#262626" text-anchor="middle">10</text>
<text x="327.50" y="328.65" font-size="8.2" fill="#262626" text-anchor="middle">15</text>
<text x="199.40" y="320.35" font-size="8.2" fill="#262626" text-anchor="end">0</text>
<text x="199.40" y="299.30" font-size="8.2" fill="#262626" text-anchor="end">500</text>
<text x="199.40" y="278.25" font-size="8.2" fill="#262626" text-anchor="end">1000</text>
<text x="199.40" y="257.20" font-size="8.2" fill="#262626" text-anchor="end">1500</text>
<text x="199.40" y="236.15" font-size="8.2" fill="#262626" text-anchor="end">2000</text>
<text x="199.40" y="215.10" font-size="8.2" fill="#262626" text-anchor="end">2500</text>
<text x="199.40" y="194.05" font-size="8.2" fill="#262626" text-anchor="end">3000</text>
<text x="265.20" y="187.55" font-size="9.0" fill="#262626" text-anchor="middle">2 GeoSOT grids &amp; 1 month</text>
<path d="M408.50 190.45V316.75M449.50 190.45V316.75M366.90 295.50H491.50M366.90 274.50H491.50M366.90 253.50H491.50M366.90 232.50H491.50M366.90 211.50H491.50" stroke="#f1f1f1" stroke-width="1" fill="none"/>
<polyline points="375.21,310.69 391.82,306.94 412.59,301.13 429.20,298.90 449.97,291.57 491.50,280.54" fill="none" stroke="#ff0000" stroke-width="1.1" stroke-linejoin="round"/>
<circle cx="375.21" cy="310.69" r="2.50" fill="none" stroke="#ff0000" stroke-width="1.15"/>
<circle cx="391.82" cy="306.94" r="2.50" fill="none" stroke="#ff0000" stroke-width="1.15"/>
<circle cx="412.59" cy="301.13" r="2.50" fill="none" stroke="#ff0000" stroke-width="1.15"/>
<circle cx="429.20" cy="298.90" r="2.50" fill="none" stroke="#ff0000" stroke-width="1.15"/>
<circle cx="449.97" cy="291.57" r="2.50" fill="none" stroke="#ff0000" stroke-width="1.15"/>
<circle cx="491.50" cy="280.54" r="2.50" fill="none" stroke="#ff0000" stroke-width="1.15"/>
<polyline points="375.21,309.97 391.82,301.64 412.59,300.37 429.20,292.96 449.97,279.74 491.50,248.04" fill="none" stroke="#000000" stroke-width="1.1" stroke-dasharray="3 2" stroke-linejoin="round"/>
<path d="M372.51 309.97L377.91 309.97M373.30 308.06L377.12 311.88M375.21 307.27L375.21 312.67M377.12 308.06L373.30 311.88" stroke="#000000" stroke-width="1.1" fill="none"/>
<path d="M389.12 301.64L394.52 301.64M389.91 299.73L393.73 303.55M391.82 298.94L391.82 304.34M393.73 299.73L389.91 303.55" stroke="#000000" stroke-width="1.1" fill="none"/>
<path d="M409.89 300.37L415.29 300.37M410.68 298.46L414.50 302.28M412.59 297.67L412.59 303.07M414.50 298.46L410.68 302.28" stroke="#000000" stroke-width="1.1" fill="none"/>
<path d="M426.50 292.96L431.90 292.96M427.29 291.05L431.11 294.87M429.20 290.26L429.20 295.66M431.11 291.05L427.29 294.87" stroke="#000000" stroke-width="1.1" fill="none"/>
<path d="M447.27 279.74L452.67 279.74M448.06 277.83L451.88 281.65M449.97 277.04L449.97 282.44M451.88 277.83L448.06 281.65" stroke="#000000" stroke-width="1.1" fill="none"/>
<path d="M488.80 248.04L494.20 248.04M489.59 246.13L493.41 249.95M491.50 245.34L491.50 250.74M493.41 246.13L489.59 249.95" stroke="#000000" stroke-width="1.1" fill="none"/>
<polyline points="375.21,306.69 391.82,303.40 412.59,296.37 429.20,286.06 449.97,265.94 491.50,240.00" fill="none" stroke="#00ff00" stroke-width="1.15" stroke-linejoin="round"/>
<circle cx="375.21" cy="306.69" r="2.50" fill="none" stroke="#00ff00" stroke-width="1.15"/>
<circle cx="391.82" cy="303.40" r="2.50" fill="none" stroke="#00ff00" stroke-width="1.15"/>
<circle cx="412.59" cy="296.37" r="2.50" fill="none" stroke="#00ff00" stroke-width="1.15"/>
<circle cx="429.20" cy="286.06" r="2.50" fill="none" stroke="#00ff00" stroke-width="1.15"/>
<circle cx="449.97" cy="265.94" r="2.50" fill="none" stroke="#00ff00" stroke-width="1.15"/>
<circle cx="491.50" cy="240.00" r="2.50" fill="none" stroke="#00ff00" stroke-width="1.15"/>
<polyline points="375.21,299.15 391.82,289.05 412.59,279.24 429.20,257.60 449.97,237.69 491.50,190.91" fill="none" stroke="#00ffff" stroke-width="1.05" stroke-dasharray="2.6 0.9 0.9 0.9" stroke-linejoin="round"/>
<polygon points="375.21,296.60 375.88,298.22 377.63,298.36 376.30,299.51 376.71,301.22 375.21,300.30 373.71,301.22 374.12,299.51 372.78,298.36 374.53,298.22" fill="none" stroke="#00ffff" stroke-width="1.05"/>
<polygon points="391.82,286.50 392.49,288.12 394.25,288.26 392.91,289.40 393.32,291.11 391.82,290.20 390.32,291.11 390.73,289.40 389.39,288.26 391.15,288.12" fill="none" stroke="#00ffff" stroke-width="1.05"/>
<polygon points="412.59,276.69 413.26,278.31 415.01,278.45 413.68,279.59 414.09,281.30 412.59,280.39 411.09,281.30 411.50,279.59 410.16,278.45 411.91,278.31" fill="none" stroke="#00ffff" stroke-width="1.05"/>
<polygon points="429.20,255.05 429.87,256.67 431.63,256.81 430.29,257.95 430.70,259.66 429.20,258.75 427.70,259.66 428.11,257.95 426.77,256.81 428.53,256.67" fill="none" stroke="#00ffff" stroke-width="1.05"/>
<polygon points="449.97,235.14 450.64,236.76 452.39,236.90 451.06,238.04 451.47,239.75 449.97,238.83 448.47,239.75 448.88,238.04 447.54,236.90 449.29,236.76" fill="none" stroke="#00ffff" stroke-width="1.05"/>
<polygon points="491.50,188.36 492.17,189.98 493.93,190.13 492.59,191.27 493.00,192.98 491.50,192.06 490.00,192.98 490.41,191.27 489.07,190.13 490.83,189.98" fill="none" stroke="#00ffff" stroke-width="1.05"/>
<polyline points="375.21,281.76 391.82,275.74 412.59,275.74 429.20,271.70 449.97,269.68 491.50,265.94" fill="none" stroke="#0000ff" stroke-width="1.25" stroke-linejoin="round"/>
<polygon points="372.51,280.16 377.91,280.16 375.21,284.76" fill="none" stroke="#0000ff" stroke-width="1.15"/>
<polygon points="389.12,274.14 394.52,274.14 391.82,278.74" fill="none" stroke="#0000ff" stroke-width="1.15"/>
<polygon points="409.89,274.14 415.29,274.14 412.59,278.74" fill="none" stroke="#0000ff" stroke-width="1.15"/>
<polygon points="426.50,270.10 431.90,270.10 429.20,274.70" fill="none" stroke="#0000ff" stroke-width="1.15"/>
<polygon points="447.27,268.08 452.67,268.08 449.97,272.68" fill="none" stroke="#0000ff" stroke-width="1.15"/>
<polygon points="488.80,264.34 494.20,264.34 491.50,268.94" fill="none" stroke="#0000ff" stroke-width="1.15"/>
<polyline points="375.21,280.50 391.82,274.73 412.59,270.19 429.20,262.65 449.97,260.88 491.50,252.59" fill="none" stroke="#ff00ff" stroke-width="1.15" stroke-dasharray="3.5 1.3 1 1.3" stroke-linejoin="round"/>
<polygon points="375.21,277.30 377.91,280.50 375.21,283.70 372.51,280.50" fill="none" stroke="#ff00ff" stroke-width="1.15"/>
<polygon points="391.82,271.53 394.52,274.73 391.82,277.93 389.12,274.73" fill="none" stroke="#ff00ff" stroke-width="1.15"/>
<polygon points="412.59,266.99 415.29,270.19 412.59,273.39 409.89,270.19" fill="none" stroke="#ff00ff" stroke-width="1.15"/>
<polygon points="429.20,259.45 431.90,262.65 429.20,265.85 426.50,262.65" fill="none" stroke="#ff00ff" stroke-width="1.15"/>
<polygon points="449.97,257.68 452.67,260.88 449.97,264.08 447.27,260.88" fill="none" stroke="#ff00ff" stroke-width="1.15"/>
<polygon points="491.50,249.39 494.20,252.59 491.50,255.79 488.80,252.59" fill="none" stroke="#ff00ff" stroke-width="1.15"/>
<path d="M366.90 316.75v-1.3M366.90 190.45v1.3M408.43 316.75v-1.3M408.43 190.45v1.3M449.97 316.75v-1.3M449.97 190.45v1.3M491.50 316.75v-1.3M491.50 190.45v1.3M366.90 316.75h1.3M491.50 316.75h-1.3M366.90 295.70h1.3M491.50 295.70h-1.3M366.90 274.65h1.3M491.50 274.65h-1.3M366.90 253.60h1.3M491.50 253.60h-1.3M366.90 232.55h1.3M491.50 232.55h-1.3M366.90 211.50h1.3M491.50 211.50h-1.3M366.90 190.45h1.3M491.50 190.45h-1.3" stroke="#a4a4a4" stroke-width="1" fill="none"/>
<rect x="366.90" y="190.45" width="124.60" height="126.30" fill="none" stroke="#a4a4a4" stroke-width="1"/>
<text x="366.90" y="328.65" font-size="8.2" fill="#262626" text-anchor="middle">0</text>
<text x="408.43" y="328.65" font-size="8.2" fill="#262626" text-anchor="middle">5</text>
<text x="449.97" y="328.65" font-size="8.2" fill="#262626" text-anchor="middle">10</text>
<text x="491.50" y="328.65" font-size="8.2" fill="#262626" text-anchor="middle">15</text>
<text x="363.40" y="320.35" font-size="8.2" fill="#262626" text-anchor="end">0</text>
<text x="363.40" y="299.30" font-size="8.2" fill="#262626" text-anchor="end">500</text>
<text x="363.40" y="278.25" font-size="8.2" fill="#262626" text-anchor="end">1000</text>
<text x="363.40" y="257.20" font-size="8.2" fill="#262626" text-anchor="end">1500</text>
<text x="363.40" y="236.15" font-size="8.2" fill="#262626" text-anchor="end">2000</text>
<text x="363.40" y="215.10" font-size="8.2" fill="#262626" text-anchor="end">2500</text>
<text x="363.40" y="194.05" font-size="8.2" fill="#262626" text-anchor="end">3000</text>
<text x="429.20" y="187.55" font-size="9.0" fill="#262626" text-anchor="middle">2 GeoSOT grids &amp; 6 months</text>
<text transform="translate(12.5 253.60) rotate(-90)" x="0" y="0" font-size="9.1" fill="#262626" text-anchor="middle">Average Time-consumed (ms)</text>
<path d="M80.50 365.80V492.00M121.50 365.80V492.00M38.90 460.50H163.50M38.90 428.50H163.50M38.90 397.50H163.50" stroke="#f1f1f1" stroke-width="1" fill="none"/>
<polyline points="47.21,487.02 63.82,485.00 84.59,480.45 101.20,477.46 121.97,471.18 163.50,461.08" fill="none" stroke="#ff0000" stroke-width="1.1" stroke-linejoin="round"/>
<circle cx="47.21" cy="487.02" r="2.50" fill="none" stroke="#ff0000" stroke-width="1.15"/>
<circle cx="63.82" cy="485.00" r="2.50" fill="none" stroke="#ff0000" stroke-width="1.15"/>
<circle cx="84.59" cy="480.45" r="2.50" fill="none" stroke="#ff0000" stroke-width="1.15"/>
<circle cx="101.20" cy="477.46" r="2.50" fill="none" stroke="#ff0000" stroke-width="1.15"/>
<circle cx="121.97" cy="471.18" r="2.50" fill="none" stroke="#ff0000" stroke-width="1.15"/>
<circle cx="163.50" cy="461.08" r="2.50" fill="none" stroke="#ff0000" stroke-width="1.15"/>
<polyline points="47.21,486.26 63.82,482.47 84.59,479.95 101.20,474.17 121.97,464.14 163.50,440.98" fill="none" stroke="#000000" stroke-width="1.1" stroke-dasharray="3 2" stroke-linejoin="round"/>
<path d="M44.51 486.26L49.91 486.26M45.30 484.35L49.12 488.17M47.21 483.56L47.21 488.96M49.12 484.35L45.30 488.17" stroke="#000000" stroke-width="1.1" fill="none"/>
<path d="M61.12 482.47L66.52 482.47M61.91 480.56L65.73 484.38M63.82 479.77L63.82 485.17M65.73 480.56L61.91 484.38" stroke="#000000" stroke-width="1.1" fill="none"/>
<path d="M81.89 479.95L87.29 479.95M82.68 478.04L86.50 481.86M84.59 477.25L84.59 482.65M86.50 478.04L82.68 481.86" stroke="#000000" stroke-width="1.1" fill="none"/>
<path d="M98.50 474.17L103.90 474.17M99.29 472.27L103.11 476.08M101.20 471.47L101.20 476.87M103.11 472.27L99.29 476.08" stroke="#000000" stroke-width="1.1" fill="none"/>
<path d="M119.27 464.14L124.67 464.14M120.06 462.23L123.88 466.05M121.97 461.44L121.97 466.84M123.88 462.23L120.06 466.05" stroke="#000000" stroke-width="1.1" fill="none"/>
<path d="M160.80 440.98L166.20 440.98M161.59 439.07L165.41 442.89M163.50 438.28L163.50 443.68M165.41 439.07L161.59 442.89" stroke="#000000" stroke-width="1.1" fill="none"/>
<polyline points="47.21,484.62 63.82,483.10 84.59,476.95 101.20,466.13 121.97,451.21 163.50,428.08" fill="none" stroke="#00ff00" stroke-width="1.15" stroke-linejoin="round"/>
<circle cx="47.21" cy="484.62" r="2.50" fill="none" stroke="#00ff00" stroke-width="1.15"/>
<circle cx="63.82" cy="483.10" r="2.50" fill="none" stroke="#00ff00" stroke-width="1.15"/>
<circle cx="84.59" cy="476.95" r="2.50" fill="none" stroke="#00ff00" stroke-width="1.15"/>
<circle cx="101.20" cy="466.13" r="2.50" fill="none" stroke="#00ff00" stroke-width="1.15"/>
<circle cx="121.97" cy="451.21" r="2.50" fill="none" stroke="#00ff00" stroke-width="1.15"/>
<circle cx="163.50" cy="428.08" r="2.50" fill="none" stroke="#00ff00" stroke-width="1.15"/>
<polyline points="47.21,479.22 63.82,473.80 84.59,463.51 101.20,447.51 121.97,428.08 163.50,386.28" fill="none" stroke="#00ffff" stroke-width="1.05" stroke-dasharray="2.6 0.9 0.9 0.9" stroke-linejoin="round"/>
<polygon points="47.21,476.67 47.88,478.29 49.63,478.43 48.30,479.58 48.71,481.29 47.21,480.37 45.71,481.29 46.12,479.58 44.78,478.43 46.53,478.29" fill="none" stroke="#00ffff" stroke-width="1.05"/>
<polygon points="63.82,471.25 64.49,472.87 66.25,473.01 64.91,474.15 65.32,475.86 63.82,474.94 62.32,475.86 62.73,474.15 61.39,473.01 63.15,472.87" fill="none" stroke="#00ffff" stroke-width="1.05"/>
<polygon points="84.59,460.96 85.26,462.58 87.01,462.72 85.68,463.86 86.09,465.57 84.59,464.66 83.09,465.57 83.50,463.86 82.16,462.72 83.91,462.58" fill="none" stroke="#00ffff" stroke-width="1.05"/>
<polygon points="101.20,444.96 101.87,446.59 103.63,446.73 102.29,447.87 102.70,449.58 101.20,448.66 99.70,449.58 100.11,447.87 98.77,446.73 100.53,446.59" fill="none" stroke="#00ffff" stroke-width="1.05"/>
<polygon points="121.97,425.53 122.64,427.15 124.39,427.29 123.06,428.43 123.47,430.14 121.97,429.23 120.47,430.14 120.88,428.43 119.54,427.29 121.29,427.15" fill="none" stroke="#00ffff" stroke-width="1.05"/>
<polygon points="163.50,383.73 164.17,385.35 165.93,385.49 164.59,386.63 165.00,388.34 163.50,387.42 162.00,388.34 162.41,386.63 161.07,385.49 162.83,385.35" fill="none" stroke="#00ffff" stroke-width="1.05"/>
<polyline points="47.21,466.13 63.82,463.64 84.59,461.74 101.20,456.10 121.97,453.73 163.50,449.44" fill="none" stroke="#0000ff" stroke-width="1.25" stroke-linejoin="round"/>
<polygon points="44.51,464.53 49.91,464.53 47.21,469.13" fill="none" stroke="#0000ff" stroke-width="1.15"/>
<polygon points="61.12,462.04 66.52,462.04 63.82,466.64" fill="none" stroke="#0000ff" stroke-width="1.15"/>
<polygon points="81.89,460.14 87.29,460.14 84.59,464.74" fill="none" stroke="#0000ff" stroke-width="1.15"/>
<polygon points="98.50,454.50 103.90,454.50 101.20,459.10" fill="none" stroke="#0000ff" stroke-width="1.15"/>
<polygon points="119.27,452.13 124.67,452.13 121.97,456.73" fill="none" stroke="#0000ff" stroke-width="1.15"/>
<polygon points="160.80,447.84 166.20,447.84 163.50,452.44" fill="none" stroke="#0000ff" stroke-width="1.15"/>
<polyline points="47.21,464.27 63.82,462.37 84.59,458.59 101.20,454.71 121.97,450.70 163.50,444.26" fill="none" stroke="#ff00ff" stroke-width="1.15" stroke-dasharray="3.5 1.3 1 1.3" stroke-linejoin="round"/>
<polygon points="47.21,461.07 49.91,464.27 47.21,467.47 44.51,464.27" fill="none" stroke="#ff00ff" stroke-width="1.15"/>
<polygon points="63.82,459.17 66.52,462.37 63.82,465.57 61.12,462.37" fill="none" stroke="#ff00ff" stroke-width="1.15"/>
<polygon points="84.59,455.39 87.29,458.59 84.59,461.79 81.89,458.59" fill="none" stroke="#ff00ff" stroke-width="1.15"/>
<polygon points="101.20,451.51 103.90,454.71 101.20,457.91 98.50,454.71" fill="none" stroke="#ff00ff" stroke-width="1.15"/>
<polygon points="121.97,447.50 124.67,450.70 121.97,453.90 119.27,450.70" fill="none" stroke="#ff00ff" stroke-width="1.15"/>
<polygon points="163.50,441.06 166.20,444.26 163.50,447.46 160.80,444.26" fill="none" stroke="#ff00ff" stroke-width="1.15"/>
<path d="M38.90 492.00v-1.3M38.90 365.80v1.3M80.43 492.00v-1.3M80.43 365.80v1.3M121.97 492.00v-1.3M121.97 365.80v1.3M163.50 492.00v-1.3M163.50 365.80v1.3M38.90 492.00h1.3M163.50 492.00h-1.3M38.90 460.45h1.3M163.50 460.45h-1.3M38.90 428.90h1.3M163.50 428.90h-1.3M38.90 397.35h1.3M163.50 397.35h-1.3M38.90 365.80h1.3M163.50 365.80h-1.3" stroke="#a4a4a4" stroke-width="1" fill="none"/>
<rect x="38.90" y="365.80" width="124.60" height="126.20" fill="none" stroke="#a4a4a4" stroke-width="1"/>
<text x="38.90" y="503.90" font-size="8.2" fill="#262626" text-anchor="middle">0</text>
<text x="80.43" y="503.90" font-size="8.2" fill="#262626" text-anchor="middle">5</text>
<text x="121.97" y="503.90" font-size="8.2" fill="#262626" text-anchor="middle">10</text>
<text x="163.50" y="503.90" font-size="8.2" fill="#262626" text-anchor="middle">15</text>
<text x="35.40" y="495.60" font-size="8.2" fill="#262626" text-anchor="end">0</text>
<text x="35.40" y="464.05" font-size="8.2" fill="#262626" text-anchor="end">1000</text>
<text x="35.40" y="432.50" font-size="8.2" fill="#262626" text-anchor="end">2000</text>
<text x="35.40" y="400.95" font-size="8.2" fill="#262626" text-anchor="end">3000</text>
<text x="35.40" y="369.40" font-size="8.2" fill="#262626" text-anchor="end">4000</text>
<text x="101.20" y="362.90" font-size="9.0" fill="#262626" text-anchor="middle">4 GeoSOT grids &amp; 1 day</text>
<path d="M244.50 365.80V492.00M285.50 365.80V492.00M202.90 460.50H327.50M202.90 428.50H327.50M202.90 397.50H327.50" stroke="#f1f1f1" stroke-width="1" fill="none"/>
<polyline points="211.21,487.74 227.82,484.59 248.59,479.22 265.20,476.92 285.97,471.40 327.50,460.58" fill="none" stroke="#ff0000" stroke-width="1.1" stroke-linejoin="round"/>
<circle cx="211.21" cy="487.74" r="2.50" fill="none" stroke="#ff0000" stroke-width="1.15"/>
<circle cx="227.82" cy="484.59" r="2.50" fill="none" stroke="#ff0000" stroke-width="1.15"/>
<circle cx="248.59" cy="479.22" r="2.50" fill="none" stroke="#ff0000" stroke-width="1.15"/>
<circle cx="265.20" cy="476.92" r="2.50" fill="none" stroke="#ff0000" stroke-width="1.15"/>
<circle cx="285.97" cy="471.40" r="2.50" fill="none" stroke="#ff0000" stroke-width="1.15"/>
<circle cx="327.50" cy="460.58" r="2.50" fill="none" stroke="#ff0000" stroke-width="1.15"/>
<polyline points="211.21,486.98 227.82,482.69 248.59,479.44 265.20,474.40 285.97,463.10 327.50,441.20" fill="none" stroke="#000000" stroke-width="1.1" stroke-dasharray="3 2" stroke-linejoin="round"/>
<path d="M208.51 486.98L213.91 486.98M209.30 485.07L213.12 488.89M211.21 484.28L211.21 489.68M213.12 485.07L209.30 488.89" stroke="#000000" stroke-width="1.1" fill="none"/>
<path d="M225.12 482.69L230.52 482.69M225.91 480.78L229.73 484.60M227.82 479.99L227.82 485.39M229.73 480.78L225.91 484.60" stroke="#000000" stroke-width="1.1" fill="none"/>
<path d="M245.89 479.44L251.29 479.44M246.68 477.53L250.50 481.35M248.59 476.74L248.59 482.14M250.50 477.53L246.68 481.35" stroke="#000000" stroke-width="1.1" fill="none"/>
<path d="M262.50 474.40L267.90 474.40M263.29 472.49L267.11 476.30M265.20 471.70L265.20 477.10M267.11 472.49L263.29 476.30" stroke="#000000" stroke-width="1.1" fill="none"/>
<path d="M283.27 463.10L288.67 463.10M284.06 461.19L287.88 465.01M285.97 460.40L285.97 465.80M287.88 461.19L284.06 465.01" stroke="#000000" stroke-width="1.1" fill="none"/>
<path d="M324.80 441.20L330.20 441.20M325.59 439.30L329.41 443.11M327.50 438.50L327.50 443.90M329.41 439.30L325.59 443.11" stroke="#000000" stroke-width="1.1" fill="none"/>
<polyline points="211.21,484.46 227.82,482.44 248.59,476.16 265.20,466.10 285.97,450.01 327.50,427.89" fill="none" stroke="#00ff00" stroke-width="1.15" stroke-linejoin="round"/>
<circle cx="211.21" cy="484.46" r="2.50" fill="none" stroke="#00ff00" stroke-width="1.15"/>
<circle cx="227.82" cy="482.44" r="2.50" fill="none" stroke="#00ff00" stroke-width="1.15"/>
<circle cx="248.59" cy="476.16" r="2.50" fill="none" stroke="#00ff00" stroke-width="1.15"/>
<circle cx="265.20" cy="466.10" r="2.50" fill="none" stroke="#00ff00" stroke-width="1.15"/>
<circle cx="285.97" cy="450.01" r="2.50" fill="none" stroke="#00ff00" stroke-width="1.15"/>
<circle cx="327.50" cy="427.89" r="2.50" fill="none" stroke="#00ff00" stroke-width="1.15"/>
<polyline points="211.21,478.94 227.82,472.63 248.59,462.09 265.20,446.00 285.97,426.12 327.50,384.67" fill="none" stroke="#00ffff" stroke-width="1.05" stroke-dasharray="2.6 0.9 0.9 0.9" stroke-linejoin="round"/>
<polygon points="211.21,476.39 211.88,478.01 213.63,478.15 212.30,479.29 212.71,481.00 211.21,480.09 209.71,481.00 210.12,479.29 208.78,478.15 210.53,478.01" fill="none" stroke="#00ffff" stroke-width="1.05"/>
<polygon points="227.82,470.08 228.49,471.70 230.25,471.84 228.91,472.98 229.32,474.69 227.82,473.78 226.32,474.69 226.73,472.98 225.39,471.84 227.15,471.70" fill="none" stroke="#00ffff" stroke-width="1.05"/>
<polygon points="248.59,459.54 249.26,461.16 251.01,461.30 249.68,462.45 250.09,464.15 248.59,463.24 247.09,464.15 247.50,462.45 246.16,461.30 247.91,461.16" fill="none" stroke="#00ffff" stroke-width="1.05"/>
<polygon points="265.20,443.45 265.87,445.07 267.63,445.21 266.29,446.35 266.70,448.06 265.20,447.15 263.70,448.06 264.11,446.35 262.77,445.21 264.53,445.07" fill="none" stroke="#00ffff" stroke-width="1.05"/>
<polygon points="285.97,423.57 286.64,425.20 288.39,425.34 287.06,426.48 287.47,428.19 285.97,427.27 284.47,428.19 284.88,426.48 283.54,425.34 285.29,425.20" fill="none" stroke="#00ffff" stroke-width="1.05"/>
<polygon points="327.50,382.12 328.17,383.74 329.93,383.88 328.59,385.02 329.00,386.73 327.50,385.81 326.00,386.73 326.41,385.02 325.07,383.88 326.83,383.74" fill="none" stroke="#00ffff" stroke-width="1.05"/>
<polyline points="211.21,466.26 227.82,461.33 248.59,459.31 265.20,454.30 285.97,453.04 327.50,449.25" fill="none" stroke="#0000ff" stroke-width="1.25" stroke-linejoin="round"/>
<polygon points="208.51,464.66 213.91,464.66 211.21,469.26" fill="none" stroke="#0000ff" stroke-width="1.15"/>
<polygon points="225.12,459.73 230.52,459.73 227.82,464.33" fill="none" stroke="#0000ff" stroke-width="1.15"/>
<polygon points="245.89,457.71 251.29,457.71 248.59,462.31" fill="none" stroke="#0000ff" stroke-width="1.15"/>
<polygon points="262.50,452.70 267.90,452.70 265.20,457.30" fill="none" stroke="#0000ff" stroke-width="1.15"/>
<polygon points="283.27,451.44 288.67,451.44 285.97,456.04" fill="none" stroke="#0000ff" stroke-width="1.15"/>
<polygon points="324.80,447.65 330.20,447.65 327.50,452.25" fill="none" stroke="#0000ff" stroke-width="1.15"/>
<polyline points="211.21,463.61 227.82,459.82 248.59,455.05 265.20,452.53 285.97,449.50 327.50,444.49" fill="none" stroke="#ff00ff" stroke-width="1.15" stroke-dasharray="3.5 1.3 1 1.3" stroke-linejoin="round"/>
<polygon points="211.21,460.41 213.91,463.61 211.21,466.81 208.51,463.61" fill="none" stroke="#ff00ff" stroke-width="1.15"/>
<polygon points="227.82,456.62 230.52,459.82 227.82,463.02 225.12,459.82" fill="none" stroke="#ff00ff" stroke-width="1.15"/>
<polygon points="248.59,451.85 251.29,455.05 248.59,458.25 245.89,455.05" fill="none" stroke="#ff00ff" stroke-width="1.15"/>
<polygon points="265.20,449.33 267.90,452.53 265.20,455.73 262.50,452.53" fill="none" stroke="#ff00ff" stroke-width="1.15"/>
<polygon points="285.97,446.30 288.67,449.50 285.97,452.70 283.27,449.50" fill="none" stroke="#ff00ff" stroke-width="1.15"/>
<polygon points="327.50,441.29 330.20,444.49 327.50,447.69 324.80,444.49" fill="none" stroke="#ff00ff" stroke-width="1.15"/>
<path d="M202.90 492.00v-1.3M202.90 365.80v1.3M244.43 492.00v-1.3M244.43 365.80v1.3M285.97 492.00v-1.3M285.97 365.80v1.3M327.50 492.00v-1.3M327.50 365.80v1.3M202.90 492.00h1.3M327.50 492.00h-1.3M202.90 460.45h1.3M327.50 460.45h-1.3M202.90 428.90h1.3M327.50 428.90h-1.3M202.90 397.35h1.3M327.50 397.35h-1.3M202.90 365.80h1.3M327.50 365.80h-1.3" stroke="#a4a4a4" stroke-width="1" fill="none"/>
<rect x="202.90" y="365.80" width="124.60" height="126.20" fill="none" stroke="#a4a4a4" stroke-width="1"/>
<text x="202.90" y="503.90" font-size="8.2" fill="#262626" text-anchor="middle">0</text>
<text x="244.43" y="503.90" font-size="8.2" fill="#262626" text-anchor="middle">5</text>
<text x="285.97" y="503.90" font-size="8.2" fill="#262626" text-anchor="middle">10</text>
<text x="327.50" y="503.90" font-size="8.2" fill="#262626" text-anchor="middle">15</text>
<text x="199.40" y="495.60" font-size="8.2" fill="#262626" text-anchor="end">0</text>
<text x="199.40" y="464.05" font-size="8.2" fill="#262626" text-anchor="end">1000</text>
<text x="199.40" y="432.50" font-size="8.2" fill="#262626" text-anchor="end">2000</text>
<text x="199.40" y="400.95" font-size="8.2" fill="#262626" text-anchor="end">3000</text>
<text x="199.40" y="369.40" font-size="8.2" fill="#262626" text-anchor="end">4000</text>
<text x="265.20" y="362.90" font-size="9.0" fill="#262626" text-anchor="middle">4 GeoSOT grids &amp; 1 month</text>
<path d="M408.50 365.80V492.00M449.50 365.80V492.00M366.90 460.50H491.50M366.90 428.50H491.50M366.90 397.50H491.50" stroke="#f1f1f1" stroke-width="1" fill="none"/>
<polyline points="375.21,487.74 391.82,484.71 412.59,478.12 429.20,475.78 449.97,470.64 491.50,456.63" fill="none" stroke="#ff0000" stroke-width="1.1" stroke-linejoin="round"/>
<circle cx="375.21" cy="487.74" r="2.50" fill="none" stroke="#ff0000" stroke-width="1.15"/>
<circle cx="391.82" cy="484.71" r="2.50" fill="none" stroke="#ff0000" stroke-width="1.15"/>
<circle cx="412.59" cy="478.12" r="2.50" fill="none" stroke="#ff0000" stroke-width="1.15"/>
<circle cx="429.20" cy="475.78" r="2.50" fill="none" stroke="#ff0000" stroke-width="1.15"/>
<circle cx="449.97" cy="470.64" r="2.50" fill="none" stroke="#ff0000" stroke-width="1.15"/>
<circle cx="491.50" cy="456.63" r="2.50" fill="none" stroke="#ff0000" stroke-width="1.15"/>
<polyline points="375.21,486.98 391.82,481.43 412.59,479.44 429.20,473.13 449.97,461.84 491.50,434.93" fill="none" stroke="#000000" stroke-width="1.1" stroke-dasharray="3 2" stroke-linejoin="round"/>
<path d="M372.51 486.98L377.91 486.98M373.30 485.07L377.12 488.89M375.21 484.28L375.21 489.68M377.12 485.07L373.30 488.89" stroke="#000000" stroke-width="1.1" fill="none"/>
<path d="M389.12 481.43L394.52 481.43M389.91 479.52L393.73 483.34M391.82 478.73L391.82 484.13M393.73 479.52L389.91 483.34" stroke="#000000" stroke-width="1.1" fill="none"/>
<path d="M409.89 479.44L415.29 479.44M410.68 477.53L414.50 481.35M412.59 476.74L412.59 482.14M414.50 477.53L410.68 481.35" stroke="#000000" stroke-width="1.1" fill="none"/>
<path d="M426.50 473.13L431.90 473.13M427.29 471.22L431.11 475.04M429.20 470.43L429.20 475.83M431.11 471.22L427.29 475.04" stroke="#000000" stroke-width="1.1" fill="none"/>
<path d="M447.27 461.84L452.67 461.84M448.06 459.93L451.88 463.75M449.97 459.14L449.97 464.54M451.88 459.93L448.06 463.75" stroke="#000000" stroke-width="1.1" fill="none"/>
<path d="M488.80 434.93L494.20 434.93M489.59 433.02L493.41 436.84M491.50 432.23L491.50 437.63M493.41 433.02L489.59 436.84" stroke="#000000" stroke-width="1.1" fill="none"/>
<polyline points="375.21,484.21 391.82,481.68 412.59,474.90 429.20,464.11 449.97,447.67 491.50,418.33" fill="none" stroke="#00ff00" stroke-width="1.15" stroke-linejoin="round"/>
<circle cx="375.21" cy="484.21" r="2.50" fill="none" stroke="#00ff00" stroke-width="1.15"/>
<circle cx="391.82" cy="481.68" r="2.50" fill="none" stroke="#00ff00" stroke-width="1.15"/>
<circle cx="412.59" cy="474.90" r="2.50" fill="none" stroke="#00ff00" stroke-width="1.15"/>
<circle cx="429.20" cy="464.11" r="2.50" fill="none" stroke="#00ff00" stroke-width="1.15"/>
<circle cx="449.97" cy="447.67" r="2.50" fill="none" stroke="#00ff00" stroke-width="1.15"/>
<circle cx="491.50" cy="418.33" r="2.50" fill="none" stroke="#00ff00" stroke-width="1.15"/>
<polyline points="375.21,478.69 391.82,470.64 412.59,458.68 429.20,442.97 449.97,424.14 491.50,394.79" fill="none" stroke="#00ffff" stroke-width="1.05" stroke-dasharray="2.6 0.9 0.9 0.9" stroke-linejoin="round"/>
<polygon points="375.21,476.14 375.88,477.76 377.63,477.90 376.30,479.04 376.71,480.75 375.21,479.83 373.71,480.75 374.12,479.04 372.78,477.90 374.53,477.76" fill="none" stroke="#00ffff" stroke-width="1.05"/>
<polygon points="391.82,468.09 392.49,469.71 394.25,469.85 392.91,471.00 393.32,472.70 391.82,471.79 390.32,472.70 390.73,471.00 389.39,469.85 391.15,469.71" fill="none" stroke="#00ffff" stroke-width="1.05"/>
<polygon points="412.59,456.13 413.26,457.75 415.01,457.90 413.68,459.04 414.09,460.75 412.59,459.83 411.09,460.75 411.50,459.04 410.16,457.90 411.91,457.75" fill="none" stroke="#00ffff" stroke-width="1.05"/>
<polygon points="429.20,440.42 429.87,442.04 431.63,442.18 430.29,443.33 430.70,445.03 429.20,444.12 427.70,445.03 428.11,443.33 426.77,442.18 428.53,442.04" fill="none" stroke="#00ffff" stroke-width="1.05"/>
<polygon points="449.97,421.59 450.64,423.21 452.39,423.35 451.06,424.49 451.47,426.20 449.97,425.28 448.47,426.20 448.88,424.49 447.54,423.35 449.29,423.21" fill="none" stroke="#00ffff" stroke-width="1.05"/>
<polygon points="491.50,392.24 492.17,393.87 493.93,394.01 492.59,395.15 493.00,396.86 491.50,395.94 490.00,396.86 490.41,395.15 489.07,394.01 490.83,393.87" fill="none" stroke="#00ffff" stroke-width="1.05"/>
<polyline points="375.21,464.58 391.82,458.05 412.59,457.04 429.20,454.30 449.97,450.86 491.50,443.48" fill="none" stroke="#0000ff" stroke-width="1.25" stroke-linejoin="round"/>
<polygon points="372.51,462.98 377.91,462.98 375.21,467.58" fill="none" stroke="#0000ff" stroke-width="1.15"/>
<polygon points="389.12,456.45 394.52,456.45 391.82,461.05" fill="none" stroke="#0000ff" stroke-width="1.15"/>
<polygon points="409.89,455.44 415.29,455.44 412.59,460.04" fill="none" stroke="#0000ff" stroke-width="1.15"/>
<polygon points="426.50,452.70 431.90,452.70 429.20,457.30" fill="none" stroke="#0000ff" stroke-width="1.15"/>
<polygon points="447.27,449.26 452.67,449.26 449.97,453.86" fill="none" stroke="#0000ff" stroke-width="1.15"/>
<polygon points="488.80,441.88 494.20,441.88 491.50,446.48" fill="none" stroke="#0000ff" stroke-width="1.15"/>
<polyline points="375.21,463.10 391.82,456.79 412.59,453.04 429.20,450.51 449.97,447.51 491.50,437.04" fill="none" stroke="#ff00ff" stroke-width="1.15" stroke-dasharray="3.5 1.3 1 1.3" stroke-linejoin="round"/>
<polygon points="375.21,459.90 377.91,463.10 375.21,466.30 372.51,463.10" fill="none" stroke="#ff00ff" stroke-width="1.15"/>
<polygon points="391.82,453.59 394.52,456.79 391.82,459.99 389.12,456.79" fill="none" stroke="#ff00ff" stroke-width="1.15"/>
<polygon points="412.59,449.84 415.29,453.04 412.59,456.24 409.89,453.04" fill="none" stroke="#ff00ff" stroke-width="1.15"/>
<polygon points="429.20,447.31 431.90,450.51 429.20,453.71 426.50,450.51" fill="none" stroke="#ff00ff" stroke-width="1.15"/>
<polygon points="449.97,444.31 452.67,447.51 449.97,450.71 447.27,447.51" fill="none" stroke="#ff00ff" stroke-width="1.15"/>
<polygon points="491.50,433.84 494.20,437.04 491.50,440.24 488.80,437.04" fill="none" stroke="#ff00ff" stroke-width="1.15"/>
<path d="M366.90 492.00v-1.3M366.90 365.80v1.3M408.43 492.00v-1.3M408.43 365.80v1.3M449.97 492.00v-1.3M449.97 365.80v1.3M491.50 492.00v-1.3M491.50 365.80v1.3M366.90 492.00h1.3M491.50 492.00h-1.3M366.90 460.45h1.3M491.50 460.45h-1.3M366.90 428.90h1.3M491.50 428.90h-1.3M366.90 397.35h1.3M491.50 397.35h-1.3M366.90 365.80h1.3M491.50 365.80h-1.3" stroke="#a4a4a4" stroke-width="1" fill="none"/>
<rect x="366.90" y="365.80" width="124.60" height="126.20" fill="none" stroke="#a4a4a4" stroke-width="1"/>
<text x="366.90" y="503.90" font-size="8.2" fill="#262626" text-anchor="middle">0</text>
<text x="408.43" y="503.90" font-size="8.2" fill="#262626" text-anchor="middle">5</text>
<text x="449.97" y="503.90" font-size="8.2" fill="#262626" text-anchor="middle">10</text>
<text x="491.50" y="503.90" font-size="8.2" fill="#262626" text-anchor="middle">15</text>
<text x="363.40" y="495.60" font-size="8.2" fill="#262626" text-anchor="end">0</text>
<text x="363.40" y="464.05" font-size="8.2" fill="#262626" text-anchor="end">1000</text>
<text x="363.40" y="432.50" font-size="8.2" fill="#262626" text-anchor="end">2000</text>
<text x="363.40" y="400.95" font-size="8.2" fill="#262626" text-anchor="end">3000</text>
<text x="363.40" y="369.40" font-size="8.2" fill="#262626" text-anchor="end">4000</text>
<text x="429.20" y="362.90" font-size="9.0" fill="#262626" text-anchor="middle">4 GeoSOT grids &amp; 6 months</text>
<text transform="translate(12.5 428.90) rotate(-90)" x="0" y="0" font-size="9.1" fill="#262626" text-anchor="middle">Average Time-consumed (ms)</text>
<text x="101.20" y="515.8" font-size="9" fill="#262626" text-anchor="middle">Metadata Volume (Million)</text>
<text x="265.20" y="515.8" font-size="9" fill="#262626" text-anchor="middle">Metadata Volume (Million)</text>
<text x="429.20" y="515.8" font-size="9" fill="#262626" text-anchor="middle">Metadata Volume (Million)</text>
<line x1="8.2" y1="538.3" x2="29.6" y2="538.3" stroke="#ff0000" stroke-width="1.0" opacity="0.8"/>
<circle cx="18.90" cy="538.30" r="2.00" fill="none" stroke="#ff0000" stroke-width="1.15"/>
<text x="31.5" y="541.5" font-size="8.4" fill="#262626">SolrCloudLSI</text>
<line x1="97.1" y1="538.6999999999999" x2="115.4" y2="538.6999999999999" stroke="#000000" stroke-width="1.0" stroke-dasharray="2.5 2.2" opacity="0.8"/>
<path d="M104.09 538.70L108.41 538.70M104.72 537.17L107.78 540.23M106.25 536.54L106.25 540.86M107.78 537.17L104.72 540.23" stroke="#000000" stroke-width="1.1" fill="none"/>
<text x="119.3" y="541.9" font-size="8.4" fill="#262626">SolrCloudLatLon</text>
<line x1="201.25" y1="539.5999999999999" x2="221.8" y2="539.5999999999999" stroke="#00ff00" stroke-width="1.0" opacity="0.8"/>
<circle cx="211.53" cy="539.60" r="2.00" fill="none" stroke="#00ff00" stroke-width="1.15"/>
<text x="224.0" y="542.8" font-size="8.4" fill="#262626">SolrLSI</text>
<line x1="267.1" y1="540.0999999999999" x2="287.1" y2="540.0999999999999" stroke="#00ffff" stroke-width="1.0" stroke-dasharray="2.5 1.3 0.8 1.3" opacity="0.8"/>
<polygon points="277.10,538.06 277.64,539.36 279.04,539.47 277.97,540.38 278.30,541.75 277.10,541.02 275.90,541.75 276.23,540.38 275.16,539.47 276.56,539.36" fill="none" stroke="#00ffff" stroke-width="1.05"/>
<text x="289.9" y="543.3" font-size="8.4" fill="#262626">SolrLatLon</text>
<line x1="346.1" y1="540.0999999999999" x2="366.8" y2="540.0999999999999" stroke="#0000ff" stroke-width="1.0" opacity="0.8"/>
<polygon points="354.29,538.82 358.61,538.82 356.45,542.50" fill="none" stroke="#0000ff" stroke-width="1.15"/>
<text x="368.8" y="543.3" font-size="8.4" fill="#262626">HBaseLSI</text>
<line x1="422.6" y1="540.0999999999999" x2="443.5" y2="540.0999999999999" stroke="#ff00ff" stroke-width="1.0" stroke-dasharray="2.5 1.3 0.8 1.3" opacity="0.8"/>
<polygon points="433.05,537.54 435.21,540.10 433.05,542.66 430.89,540.10" fill="none" stroke="#ff00ff" stroke-width="1.15"/>
<text x="445.6" y="543.3" font-size="8.4" fill="#262626">HBaseLatLon</text>
</svg>
</body></html>
